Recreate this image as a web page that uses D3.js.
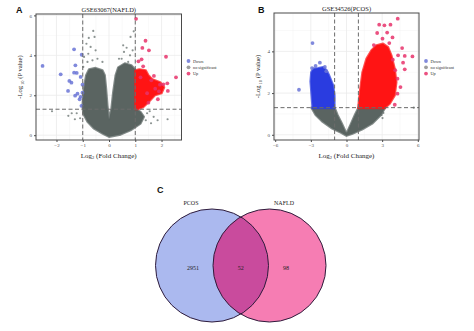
<!DOCTYPE html>
<html>
<head>
<meta charset="utf-8">
<script src="https://cdn.jsdelivr.net/npm/d3@7"></script>
<style>
  body { margin: 0; background: #fff; }
  svg { display: block; }
  text { font-family: "Liberation Serif", "DejaVu Serif", serif; }
</style>
</head>
<body>
<script>
// ---- data: GSE63067 (NAFLD) ----
var nafldGrayCloud = [[0,-0.08],[-0.25,0.08],[-0.57,0.33],[-0.82,0.67],[-0.98,1.08],[-1.01,1.5],[-0.98,2.0],[-0.93,2.58],[-0.87,3.0],[-0.76,3.3],[-0.51,3.37],[-0.25,3.25],[-0.16,3.0],[-0.11,2.33],[-0.06,1.5],[0,0.8],[0.09,1.33],[0.16,2.17],[0.25,3.0],[0.35,3.4],[0.6,3.6],[0.85,3.5],[0.99,3.3],[0.99,2.5],[1.01,1.33],[1.2,1.17],[1.33,0.92],[1.2,0.58],[0.82,0.25],[0.44,0.03]];
var nafldRedCloud = [[1.0,1.3],[1.0,3.25],[1.15,3.3],[1.4,3.25],[1.5,3.0],[1.65,2.8],[1.95,2.65],[2.1,2.4],[2.0,2.1],[1.75,2.0],[1.5,1.65],[1.3,1.4],[1.1,1.3]];
var nafldGray = [[-0.6,5.22],[-0.77,4.87],[-0.55,4.92],[-0.86,4.58],[-0.7,4.42],[-0.51,4.25],[-0.79,4.08],[-0.95,3.92],[-0.44,3.83],[-0.63,3.75],[-0.25,3.67],[-0.82,3.67],[-0.98,3.42],
  [0.54,4.5],[0.67,4.38],[0.82,4.92],[0.9,4.25],[0.8,4.0],[0.48,3.83],[0.57,4.17],[0.73,3.67],[0.38,3.83],[0.94,5.2],
  [-2.17,1.2],[-1.55,0.97],[-1.42,1.1],[-1.23,1.1],[-1.1,0.85],[-1.3,0.8],
  [1.45,1.1],[1.7,0.92],[1.85,0.75],[2.23,0.8],[1.6,0.6],[1.4,0.75],[1.55,1.2]];
var nafldDown = [[-2.53,3.47],[-1.33,4.3],[-1.04,4.03],[-1.84,3.05],[-1.28,3.5],[-1.23,3.12],[-1.43,2.63],[-1.51,2.72],[-1.56,2.22],[-1.2,2.08],[-1.08,1.92],[-1.12,1.8],[-1.01,2.53],[-1.08,2.92],[-1.05,1.47],[-1.29,1.98],[-1.01,2.13],[-1.33,3.13]];
var nafldUp = [[1.03,5.83],[1.39,4.73],[1.52,4.25],[1.27,4.37],[1.12,3.7],[1.24,3.8],[2.17,3.93],[2.55,2.9],[2.22,2.6],[2.24,2.22],[1.86,1.8],[1.94,2.53],[2.07,2.55],[1.5,1.63],[1.76,2.33],[1.61,2.75],[1.71,2.97],[1.3,3.45],[1.9,2.2],[1.45,2.1],[1.2,2.9]];

// ---- data: GSE34526 (PCOS) ----
var pcosGrayCloud = [[-2.95,1.3],[-2.6,0.95],[-2.0,0.62],[-1.2,0.3],[-0.45,0.1],[0,-0.05],[0.5,0.05],[1.3,0.25],[2.2,0.55],[2.9,0.95],[3.25,1.3],[1.0,1.3],[0.7,0.95],[0.35,0.5],[0.05,0.12],[-0.05,0.12],[-0.4,0.55],[-0.75,0.95],[-1.0,1.3]];
var pcosBlueCloud = [[-2.86,1.28],[-2.94,1.89],[-3.03,2.56],[-2.97,3.0],[-2.8,3.17],[-2.38,3.2],[-1.96,3.25],[-1.68,3.09],[-1.46,2.85],[-1.12,2.37],[-1.01,1.89],[-1.01,1.28]];
var pcosRedCloud = [[0.98,1.28],[1.12,2.05],[1.34,3.0],[1.68,3.65],[2.1,4.05],[2.52,4.29],[3.08,4.37],[3.5,4.2],[3.78,3.81],[4.06,3.17],[4.2,2.53],[4.06,1.89],[3.64,1.49],[3.22,1.28]];
var pcosGray = [[3.03,0.8],[2.95,0.95],[5.66,1.3],[3.1,1.05]];
var pcosDown = [[-2.86,4.4],[-4.0,2.16],[-2.24,3.46],[-1.82,3.25],[-2.6,3.3],[-1.7,3.05],[-2.9,3.2]];
var pcosUp = [[4.31,5.57],[2.75,5.28],[3.19,5.25],[3.7,5.28],[2.58,4.88],[3.42,4.9],[3.87,4.67],[4.68,4.16],[5.55,3.76],[4.9,3.78],[4.76,3.46],[4.34,3.81],[4.9,3.14],[4.29,2.69],[4.54,2.29],[4.29,1.97],[4.06,1.44],[3.03,4.61],[3.9,3.6],[4.1,3.1],[2.3,4.3],[3.6,4.4]];

var legendLabels = ["Down", "no significant", "Up"];

// ---- data: overlap of DEGs ----
var vennSets = ["PCOS", "NAFLD"];
var vennCounts = [2951, 52, 98];

var W = 474, H = 331;
var svg = d3.select("body").append("svg").attr("width", W).attr("height", H);

var colGray = "#5a6461", colRed = "#ff1414", colBlue = "#2a3ce0";
var colUpPt = "#e8336b", colDownPt = "#6a74d6";

function drawVolcano(cfg) {
  var g = svg.append("g");
  var x = d3.scaleLinear().domain(cfg.xDomain).range([cfg.left, cfg.right]);
  var y = d3.scaleLinear().domain(cfg.yDomain).range([cfg.bottom, cfg.top]);

  // panel background grid (minor then major)
  g.selectAll(".vmin").data(cfg.xMinor).enter().append("line")
    .attr("x1", d => x(d)).attr("x2", d => x(d)).attr("y1", cfg.top).attr("y2", cfg.bottom)
    .attr("stroke", "#f3f3f3").attr("stroke-width", 0.5);
  g.selectAll(".hmin").data(cfg.yMinor).enter().append("line")
    .attr("y1", d => y(d)).attr("y2", d => y(d)).attr("x1", cfg.left).attr("x2", cfg.right)
    .attr("stroke", "#f3f3f3").attr("stroke-width", 0.5);
  g.selectAll(".vmaj").data(cfg.xTicks).enter().append("line")
    .attr("x1", d => x(d)).attr("x2", d => x(d)).attr("y1", cfg.top).attr("y2", cfg.bottom)
    .attr("stroke", "#ebebeb").attr("stroke-width", 0.8);
  g.selectAll(".hmaj").data(cfg.yTicks).enter().append("line")
    .attr("y1", d => y(d)).attr("y2", d => y(d)).attr("x1", cfg.left).attr("x2", cfg.right)
    .attr("stroke", "#ebebeb").attr("stroke-width", 0.8);

  var line = d3.line().x(d => x(d[0])).y(d => y(d[1])).curve(d3.curveLinearClosed);
  var clouds = [[cfg.grayCloud, colGray]];
  if (cfg.blueCloud) clouds.push([cfg.blueCloud, colBlue]);
  if (cfg.redCloud) clouds.push([cfg.redCloud, colRed]);
  clouds.forEach(function (c) {
    g.append("path").attr("d", line(c[0]))
      .attr("fill", c[1]).attr("stroke", c[1]).attr("stroke-width", 2.2)
      .attr("stroke-linejoin", "round").attr("stroke-opacity", 0.75);
  });

  g.selectAll(".gp").data(cfg.gray).enter().append("circle")
    .attr("cx", d => x(d[0])).attr("cy", d => y(d[1])).attr("r", 1.1)
    .attr("fill", "#66706d").attr("fill-opacity", 0.75);
  g.selectAll(".dp").data(cfg.down).enter().append("circle")
    .attr("cx", d => x(d[0])).attr("cy", d => y(d[1])).attr("r", 1.9)
    .attr("fill", colDownPt).attr("fill-opacity", 0.85);
  g.selectAll(".up").data(cfg.up).enter().append("circle")
    .attr("cx", d => x(d[0])).attr("cy", d => y(d[1])).attr("r", 1.9)
    .attr("fill", colUpPt).attr("fill-opacity", 0.85);

  // thresholds: |log2FC| = 1, p = 0.05
  var pCut = -Math.log10(0.05);
  g.append("line").attr("x1", cfg.left).attr("x2", cfg.right).attr("y1", y(pCut)).attr("y2", y(pCut))
    .attr("stroke", "#6b6b6b").attr("stroke-width", 1).attr("stroke-dasharray", "4,2.5");
  [-1, 1].forEach(function (v) {
    g.append("line").attr("x1", x(v)).attr("x2", x(v)).attr("y1", cfg.top).attr("y2", cfg.bottom)
      .attr("stroke", "#6b6b6b").attr("stroke-width", 1).attr("stroke-dasharray", "4,2.5");
  });

  g.append("rect").attr("x", cfg.left).attr("y", cfg.top)
    .attr("width", cfg.right - cfg.left).attr("height", cfg.bottom - cfg.top)
    .attr("fill", "none").attr("stroke", "#4a4a4a").attr("stroke-width", 1);

  var fmt = d3.format("d");
  var xAxis = g.append("g").attr("transform", "translate(0," + cfg.bottom + ")")
    .call(d3.axisBottom(x).tickValues(cfg.xTicks).tickFormat(fmt).tickSize(2).tickPadding(1.5));
  var yAxis = g.append("g").attr("transform", "translate(" + cfg.left + ",0)")
    .call(d3.axisLeft(y).tickValues(cfg.yTicks).tickFormat(fmt).tickSize(2).tickPadding(2));
  [xAxis, yAxis].forEach(function (a) {
    a.select(".domain").remove();
    a.selectAll("line").attr("stroke", "#4a4a4a");
    a.selectAll("text").attr("fill", "#4d4d4d").style("font-size", "5px")
      .style("font-family", "Liberation Serif, serif");
  });

  g.append("text").attr("x", (cfg.left + cfg.right) / 2).attr("y", cfg.top - 2.5)
    .attr("text-anchor", "middle").style("font-size", "6.5px").attr("fill", "#222").text(cfg.title);
  g.append("text").attr("x", cfg.letterX).attr("y", 13)
    .style("font-family", "Liberation Sans, Arial, sans-serif").style("font-weight", "bold")
    .style("font-size", "9px").attr("fill", "#111").text(cfg.letter);

  var xl = g.append("text").attr("x", (cfg.left + cfg.right) / 2).attr("y", 157.5)
    .attr("text-anchor", "middle").style("font-size", "7px").attr("fill", "#222");
  xl.append("tspan").text("Log");
  xl.append("tspan").attr("dy", 1.5).style("font-size", "4.5px").text("2");
  xl.append("tspan").attr("dy", -1.5).text(" (Fold Change)");

  var yl = g.append("text").attr("transform", "translate(" + cfg.yLabelX + "," + ((cfg.top + cfg.bottom) / 2) + ") rotate(-90)")
    .attr("text-anchor", "middle").style("font-size", "6.5px").attr("fill", "#222");
  yl.append("tspan").text("-Log");
  yl.append("tspan").attr("dy", 1.5).style("font-size", "4.5px").text(" 10");
  yl.append("tspan").attr("dy", -1.5).text(" (P value)");

  // legend
  var legCols = [colDownPt, "#8d8d8d", colUpPt];
  var leg = g.append("g");
  legendLabels.forEach(function (lab, i) {
    var ly = 61 + i * 6.3;
    leg.append("circle").attr("cx", cfg.legendX).attr("cy", ly).attr("r", 1.9)
      .attr("fill", legCols[i]).attr("fill-opacity", 0.85);
    leg.append("text").attr("x", cfg.legendX + 4.5).attr("y", ly + 1.5)
      .style("font-size", "4.3px").attr("fill", "#333").text(lab);
  });
}

drawVolcano({
  left: 36, right: 181.5, top: 14, bottom: 140,
  xDomain: [-2.78, 2.76], yDomain: [-0.24, 6.07],
  xTicks: [-2, -1, 0, 1, 2], yTicks: [0, 2, 4, 6],
  xMinor: [-2.5, -1.5, -0.5, 0.5, 1.5, 2.5], yMinor: [1, 3, 5],
  grayCloud: nafldGrayCloud, redCloud: nafldRedCloud,
  gray: nafldGray, down: nafldDown, up: nafldUp,
  title: "GSE63067(NAFLD)", letter: "A", letterX: 16, yLabelX: 22, legendX: 188.5
});

drawVolcano({
  left: 274, right: 419, top: 13, bottom: 140,
  xDomain: [-6.1, 6.1], yDomain: [-0.25, 5.84],
  xTicks: [-6, -3, 0, 3, 6], yTicks: [0, 2, 4],
  xMinor: [-4.5, -1.5, 1.5, 4.5], yMinor: [1, 3, 5],
  grayCloud: pcosGrayCloud, blueCloud: pcosBlueCloud, redCloud: pcosRedCloud,
  gray: pcosGray, down: pcosDown, up: pcosUp,
  title: "GSE34526(PCOS)", letter: "B", letterX: 258, yLabelX: 260, legendX: 426
});

// ---- Venn diagram ----
var venn = svg.append("g");
var vx = d3.scaleLinear().domain([0, 1]).range([212, 269.5]);
var vr = 56.5, vcy = 265.5;
var vennFill = ["#abb9ef", "#f67db3"];

venn.append("defs").append("clipPath").attr("id", "clipLeft")
  .append("circle").attr("cx", vx(0)).attr("cy", vcy).attr("r", vr);

vennSets.forEach(function (s, i) {
  venn.append("circle").attr("cx", vx(i)).attr("cy", vcy).attr("r", vr).attr("fill", vennFill[i]);
});
venn.append("circle").attr("cx", vx(1)).attr("cy", vcy).attr("r", vr)
  .attr("clip-path", "url(#clipLeft)").attr("fill", "#c94b9d");
vennSets.forEach(function (s, i) {
  venn.append("circle").attr("cx", vx(i)).attr("cy", vcy).attr("r", vr)
    .attr("fill", "none").attr("stroke", "#2e1c3c").attr("stroke-width", 1);
});

var setLabelX = [vx(0) - 21, vx(1) + 14.5];
vennSets.forEach(function (s, i) {
  venn.append("text").attr("x", setLabelX[i]).attr("y", 205)
    .attr("text-anchor", "middle").style("font-size", "6px").attr("fill", "#222").text(s);
});
var countX = [vx(0) - 19, vx(0.5), vx(1) + 16.5];
vennCounts.forEach(function (c, i) {
  venn.append("text").attr("x", countX[i]).attr("y", 269.5)
    .attr("text-anchor", "middle").style("font-size", "6px").attr("fill", "#222").text(c);
});
venn.append("text").attr("x", 157).attr("y", 193)
  .style("font-family", "Liberation Sans, Arial, sans-serif").style("font-weight", "bold")
  .style("font-size", "9px").attr("fill", "#111").text("C");
</script>
</body>
</html>
